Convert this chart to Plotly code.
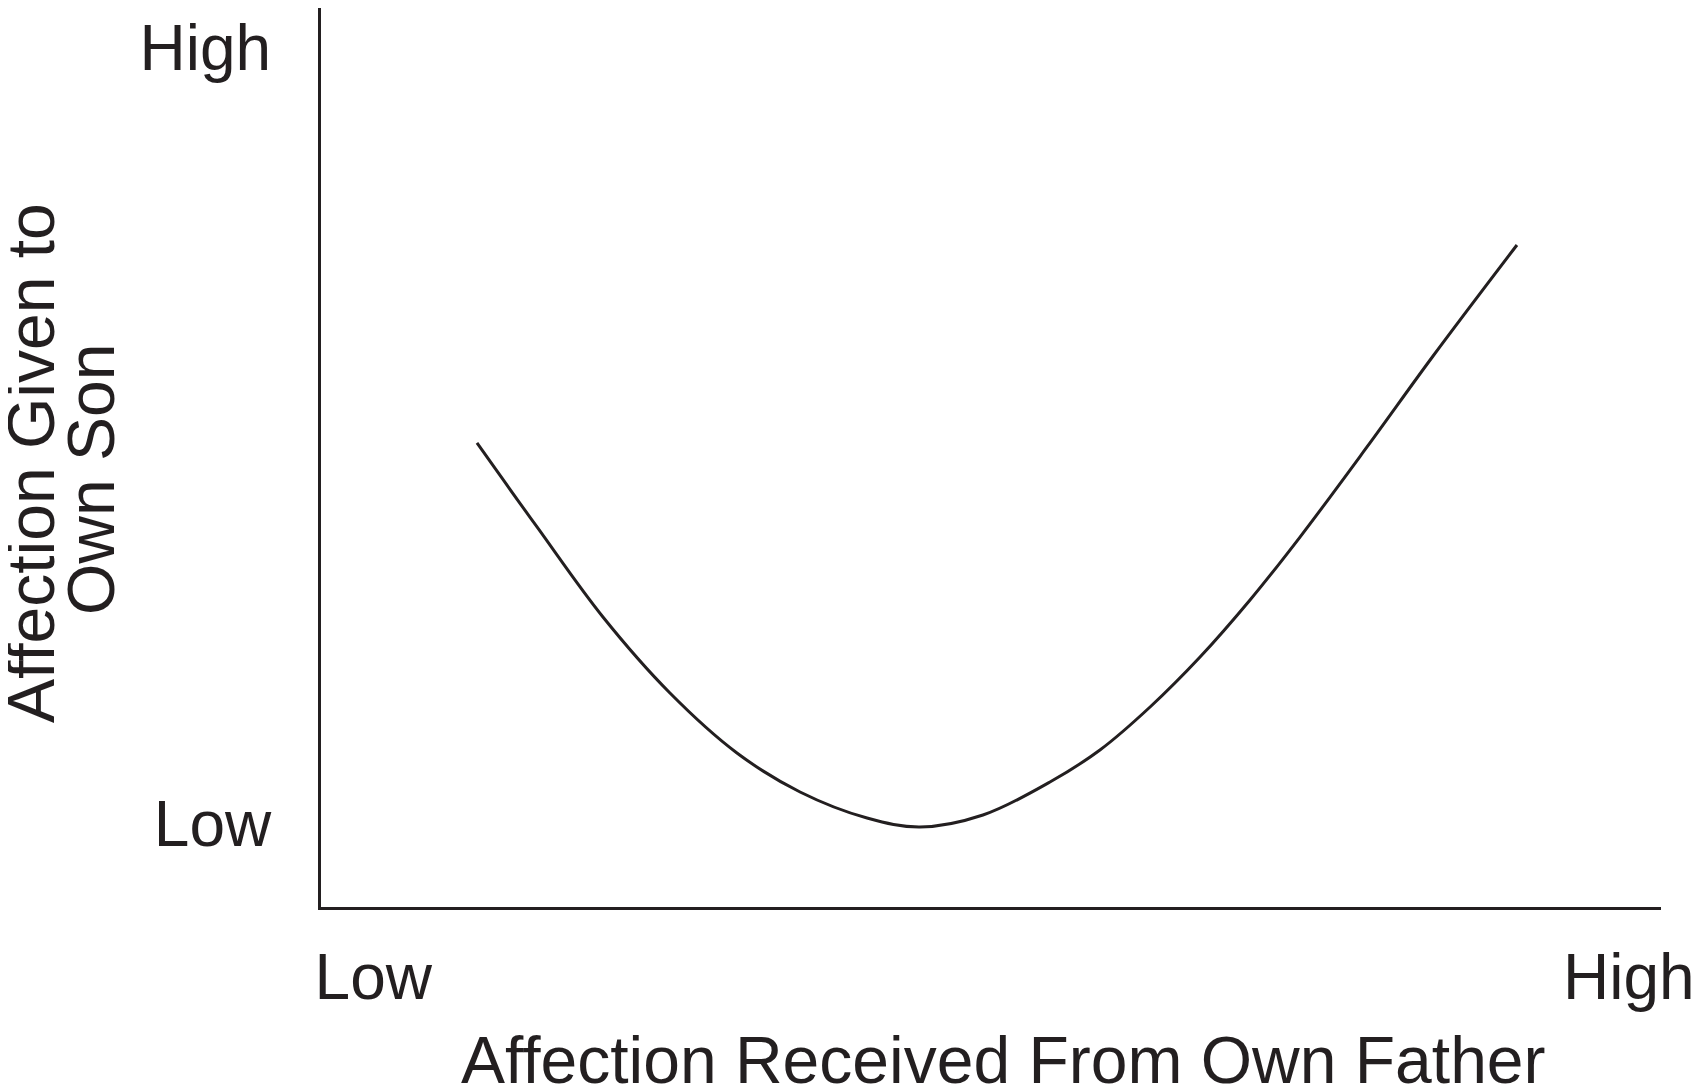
import plotly.graph_objects as go

# Curve (data units: 0-100 on both axes)
received_from_father = [11.64, 16.12, 21.04, 26.04, 31.04, 35.75, 40.75, 44.70, 49.40, 54.40,
                        58.13, 61.87, 65.60, 69.33, 73.06, 78.06, 82.99, 89.25]
given_to_son = [51.16, 41.90, 31.97, 23.59, 16.98, 12.68, 9.81, 8.82, 10.14, 13.78,
                17.31, 22.05, 27.56, 33.85, 40.79, 50.72, 60.75, 72.99]

x_tick_vals = [3.9, 97.6]
x_tick_text = ["Low", "High"]
y_tick_vals = [9.15, 94.7]
y_tick_text = ["Low", "High"]

x_title = "Affection Received From Own Father"
y_title_lines = ["Affection Given to", "Own Son"]

INK = "#231f20"
FONT = "Liberation Sans, Arial, Helvetica, sans-serif"

fig = go.Figure()
fig.add_trace(go.Scatter(
    x=received_from_father, y=given_to_son, mode="lines",
    line=dict(color=INK, width=3, shape="spline", smoothing=1.0),
    hoverinfo="skip", showlegend=False,
))

fig.update_layout(
    width=1700, height=1089,
    margin=dict(l=313, r=47, t=0, b=190, pad=0),
    paper_bgcolor="white", plot_bgcolor="white",
    font=dict(family=FONT, size=64, color=INK),
    showlegend=False,
)
fig.update_xaxes(
    range=[0, 100], showgrid=False, zeroline=False, automargin=False,
    showline=True, linecolor=INK, linewidth=3,
    ticks="", tickvals=x_tick_vals, ticktext=x_tick_text,
    tickfont=dict(family=FONT, size=64, color=INK),
    ticklabelstandoff=12, ticklabeloverflow="allow", fixedrange=True,
)
fig.update_yaxes(
    range=[0, 99.12], showgrid=False, zeroline=False, automargin=False,
    showline=True, linecolor=INK, linewidth=3,
    ticks="", tickvals=y_tick_vals, ticktext=y_tick_text,
    tickfont=dict(family=FONT, size=64, color=INK),
    ticklabelstandoff=34, ticklabeloverflow="allow", fixedrange=True,
)

# axis titles (positions in page pixels converted to paper coords)
def px(xp):
    return (xp - 321) / 1340

def py(yp):
    return (907 - yp) / 899

fig.add_annotation(text=x_title, xref="paper", yref="paper",
                   x=px(1003), y=py(1060),
                   xanchor="center", yanchor="middle", showarrow=False,
                   font=dict(family=FONT, size=66, color=INK))
fig.add_annotation(text=y_title_lines[0], xref="paper", yref="paper",
                   x=px(31), y=py(463), textangle=-90,
                   xanchor="center", yanchor="middle", showarrow=False,
                   font=dict(family=FONT, size=66, color=INK))
fig.add_annotation(text=y_title_lines[1], xref="paper", yref="paper",
                   x=px(91), y=py(480), textangle=-90,
                   xanchor="center", yanchor="middle", showarrow=False,
                   font=dict(family=FONT, size=66, color=INK))

fig.write_html("out.html")
